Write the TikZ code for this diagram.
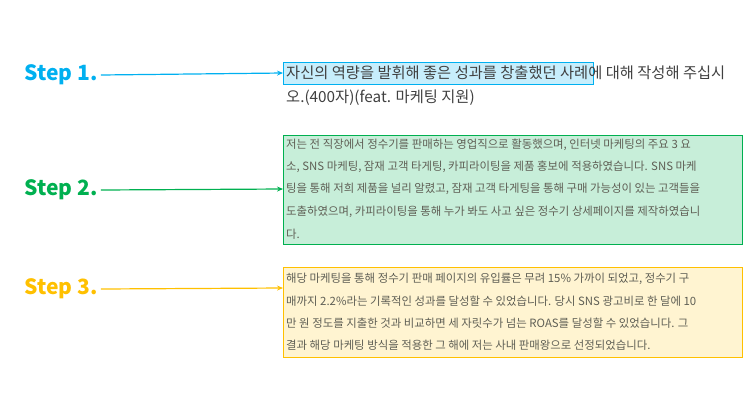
\documentclass[tikz,border=0pt]{standalone}
\usepackage{fontspec}
\setmainfont{Noto Sans CJK KR}
\usetikzlibrary{arrows.meta}
\definecolor{stepblue}{RGB}{0,176,240}
\definecolor{stepgreen}{RGB}{0,176,80}
\definecolor{stepgold}{RGB}{255,192,0}
\definecolor{bodygray}{RGB}{95,95,85}
\tikzset{
  steplabel/.style={font=\bfseries\fontsize{21}{24}\selectfont, anchor=center},
  bodyline/.style={anchor=west, inner sep=0pt, text=bodygray, font=\fontsize{11.4}{13}\selectfont},
  arr/.style={-{Stealth[length=6pt,width=5pt]}, line width=1.2pt}
}
\begin{document}
\begin{tikzpicture}[x=1pt,y=-1pt]
                \useasboundingbox (0,0) rectangle (743,418);
                % step labels
                \node [steplabel, text=stepblue] (S1) at (61,75) {Step 1.};
                \node [steplabel, text=stepgreen] (S2) at (61,190) {Step 2.};
                \node [steplabel, text=stepgold] (S3) at (61,289) {Step 3.};
                % boxes
                \draw [stepblue, fill=stepblue!22, line width=1pt] (283,62) rectangle (593,84);
                \draw [stepgreen, fill=stepgreen!22, line width=1pt] (283,135) rectangle (742,244);
                \draw [stepgold, fill=stepgold!18, line width=1pt] (283,267) rectangle (742,357);
                \coordinate (B1) at (283,73);
                \coordinate (B2) at (283,189);
                \coordinate (B3) at (283,288);
                \draw [arr, stepblue] (S1.east) -- (B1);
                \draw [arr, stepgreen] (S2.east) -- (B2);
                \draw [arr, stepgold] (S3.east) -- (B3);
                % question
                \node [bodyline, text=black!75, font=\fontsize{15.3}{18}\selectfont] (Q1) at (286,73) {자신의 역량을 발휘해 좋은 성과를 창출했던 사례에 대해 작성해 주십시};
                \node [bodyline, text=black!75, font=\fontsize{15.3}{18}\selectfont] (Q2) at (286,98) {오.(400자)(feat. 마케팅 지원)};
                % step 2 text
                \node [bodyline] (A1) at (286,145) {저는 전 직장에서 정수기를 판매하는 영업직으로 활동했으며, 인터넷 마케팅의 주요 3 요};
                \node [bodyline] (A2) at (286,167) {소, SNS 마케팅, 잠재 고객 타게팅, 카피라이팅을 제품 홍보에 적용하였습니다. SNS 마케};
                \node [bodyline] (A3) at (286,189) {팅을 통해 저희 제품을 널리 알렸고, 잠재 고객 타게팅을 통해 구매 가능성이 있는 고객들을};
                \node [bodyline] (A4) at (286,212) {도출하였으며, 카피라이팅을 통해 누가 봐도 사고 싶은 정수기 상세페이지를 제작하였습니};
                \node [bodyline] (A5) at (286,234) {다.};
                % step 3 text
                \node [bodyline] (C1) at (286,279) {해당 마케팅을 통해 정수기 판매 페이지의 유입률은 무려 15\% 가까이 되었고, 정수기 구};
                \node [bodyline] (C2) at (286,301) {매까지 2.2\%라는 기록적인 성과를 달성할 수 있었습니다. 당시 SNS 광고비로 한 달에 10};
                \node [bodyline] (C3) at (286,323) {만 원 정도를 지출한 것과 비교하면 세 자릿수가 넘는 ROAS를 달성할 수 있었습니다. 그};
                \node [bodyline] (C4) at (286,345) {결과 해당 마케팅 방식을 적용한 그 해에 저는 사내 판매왕으로 선정되었습니다.};
\end{tikzpicture}
\end{document}
